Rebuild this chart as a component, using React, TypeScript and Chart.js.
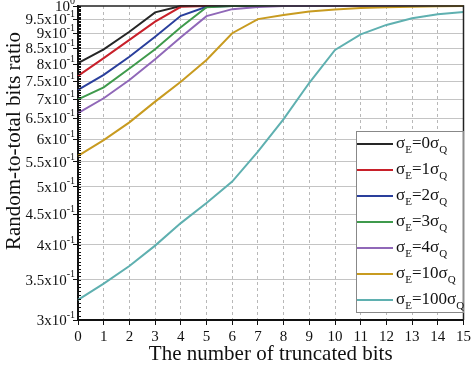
import React, { useEffect, useRef } from "react";
import { Chart, registerables } from "chart.js";

Chart.register(...registerables);

const xValues = [0, 1, 2, 3, 4, 5, 6, 7, 8, 9, 10, 11, 12, 13, 14, 15];

const sigmaMultipliers = ["0", "1", "2", "3", "4", "10", "100"];

const s0 = [0.803, 0.847, 0.906, 0.976, 1, 1, 1, 1, 1, 1, 1, 1, 1, 1, 1, 1];
const s1 = [0.765, 0.819, 0.878, 0.942, 0.997, 1, 1, 1, 1, 1, 1, 1, 1, 1, 1, 1];
const s2 = [0.725, 0.768, 0.823, 0.889, 0.963, 0.997, 1, 1, 1, 1, 1, 1, 1, 1, 1, 1];
const s3 = [0.699, 0.732, 0.787, 0.847, 0.922, 0.995, 1, 1, 1, 1, 1, 1, 1, 1, 1, 1];
const s4 = [0.663, 0.702, 0.753, 0.815, 0.887, 0.962, 0.988, 0.996, 1, 1, 1, 1, 1, 1, 1, 1];
const s10 = [0.563, 0.598, 0.64, 0.693, 0.748, 0.813, 0.901, 0.951, 0.966, 0.979, 0.987, 0.992, 0.995, 0.997, 0.999, 1];
const s100 = [0.324, 0.345, 0.369, 0.399, 0.435, 0.47, 0.51, 0.572, 0.648, 0.745, 0.845, 0.897, 0.93, 0.954, 0.969, 0.977];

const seriesValues = [s0, s1, s2, s3, s4, s10, s100];
const seriesColors = ["#262626", "#c8202a", "#2a3f9c", "#3f9a4c", "#9068b8", "#c89b20", "#5fb0b0"];

const yMajorTicks = [0.3, 0.35, 0.4, 0.45, 0.5, 0.55, 0.6, 0.65, 0.7, 0.75, 0.8, 0.85, 0.9, 0.95, 1];
const yTickBases = ["3x10", "3.5x10", "4x10", "4.5x10", "5x10", "5.5x10", "6x10", "6.5x10", "7x10", "7.5x10", "8x10", "8.5x10", "9x10", "9.5x10", "10"];
const yTickExps = ["-1", "-1", "-1", "-1", "-1", "-1", "-1", "-1", "-1", "-1", "-1", "-1", "-1", "-1", "0"];

const yTitle = "Random-to-total bits ratio";
const xTitle = "The number of truncated bits";

const yMinorTicks: number[] = [];
for (let i = 60; i <= 200; i++) yMinorTicks.push(i / 200);

const SERIF = '"Liberation Serif", "Times New Roman", serif';

const overlayPlugin = {
  id: "overlay",
  afterDatasetsDraw(chart: any) {
    const { ctx, chartArea } = chart;
    const y = chart.scales.y;
    ctx.save();
    // frame top / right
    ctx.strokeStyle = "#222";
    ctx.lineWidth = 1.5;
    ctx.beginPath();
    ctx.moveTo(chartArea.left, chartArea.top);
    ctx.lineTo(chartArea.right, chartArea.top);
    ctx.lineTo(chartArea.right, chartArea.bottom);
    ctx.stroke();
    // minor ticks (inward)
    ctx.lineWidth = 1;
    ctx.strokeStyle = "#111";
    ctx.beginPath();
    for (const v of yMinorTicks) {
      const py = Math.round(y.getPixelForValue(v)) + 0.5;
      ctx.moveTo(chartArea.left, py);
      ctx.lineTo(chartArea.left + 3, py);
    }
    ctx.stroke();
    // y labels with superscript
    ctx.fillStyle = "#111";
    ctx.textBaseline = "middle";
    ctx.textAlign = "left";
    const right = chartArea.left - 3;
    yMajorTicks.forEach((v, i) => {
      const py = y.getPixelForValue(v);
      ctx.font = `10px ${SERIF}`;
      const supW = ctx.measureText(yTickExps[i]).width;
      ctx.font = `15px ${SERIF}`;
      const baseW = ctx.measureText(yTickBases[i]).width;
      ctx.fillText(yTickBases[i], right - supW - baseW, py + 1);
      ctx.font = `10px ${SERIF}`;
      ctx.fillText(yTickExps[i], right - supW, py - 5);
    });
    // y title
    ctx.save();
    ctx.translate(14, 141);
    ctx.rotate(-Math.PI / 2);
    ctx.textAlign = "center";
    ctx.textBaseline = "middle";
    ctx.font = `21px ${SERIF}`;
    ctx.fillText(yTitle, 0, 0);
    ctx.restore();
    // legend
    const boxRight = chartArea.right;
    const boxLeft = 356;
    const boxTop = 131;
    const rowH = 26;
    const boxBottom = boxTop + rowH * seriesValues.length;
    ctx.fillStyle = "#fff";
    ctx.fillRect(boxLeft, boxTop, boxRight - boxLeft, boxBottom - boxTop);
    ctx.strokeStyle = "#888";
    ctx.lineWidth = 1;
    ctx.strokeRect(boxLeft + 0.5, boxTop + 0.5, boxRight - boxLeft - 1, boxBottom - boxTop - 1);
    chart.data.datasets.forEach((ds: any, i: number) => {
      const cy = boxTop + 13 + rowH * i;
      ctx.strokeStyle = ds.borderColor;
      ctx.lineWidth = 2;
      ctx.beginPath();
      ctx.moveTo(boxLeft + 1, cy);
      ctx.lineTo(boxLeft + 37, cy);
      ctx.stroke();
      const parts = String(ds.label).split(/_(\w)/);
      let x = boxLeft + 40;
      ctx.fillStyle = "#111";
      parts.forEach((p: string, k: number) => {
        const sub = k % 2 === 1;
        ctx.font = sub ? `11px ${SERIF}` : `17px ${SERIF}`;
        ctx.fillText(p, x, sub ? cy + 6 : cy);
        x += ctx.measureText(p).width;
      });
    });
    ctx.restore();
  },
};

export default function App() {
  const ref = useRef<HTMLCanvasElement>(null);
  useEffect(() => {
    if (!ref.current) return;
    const chart = new Chart(ref.current, {
      type: "line",
      data: {
        datasets: seriesValues.map((vals, i) => ({
          label: `σ_E=${sigmaMultipliers[i]}σ_Q`,
          data: xValues.map((x, j) => ({ x, y: vals[j] })),
          borderColor: seriesColors[i],
          backgroundColor: seriesColors[i],
          borderWidth: 2,
          pointRadius: 0,
          tension: 0,
          order: seriesValues.length - i,
          clip: 4,
        })),
      },
      options: {
        animation: false,
        responsive: true,
        maintainAspectRatio: false,
        layout: { padding: { left: 0, top: 6, right: 7, bottom: 0 } },
        plugins: { legend: { display: false }, tooltip: { enabled: false } },
        scales: {
          x: {
            type: "linear",
            min: 0,
            max: 15,
            afterFit: (s: any) => {
              s.height = 46;
            },
            ticks: { stepSize: 1, font: { family: SERIF, size: 15 }, color: "#111", padding: 3 },
            grid: { color: "#b8b8b8", lineWidth: 1, tickLength: 5, tickColor: "#111", tickWidth: 1 },
            border: { color: "#111", width: 2, dash: [3, 3] },
            title: {
              display: true,
              text: xTitle,
              font: { family: SERIF, size: 21 },
              color: "#111",
              padding: { top: 0, bottom: -1 },
            },
          },
          y: {
            type: "logarithmic",
            min: 0.3,
            max: 1,
            afterFit: (s: any) => {
              s.width = 78;
            },
            afterBuildTicks: (s: any) => {
              s.ticks = yMajorTicks.map((v) => ({ value: v }));
            },
            ticks: { display: false },
            grid: {
              color: (c: any) => (c.tick && (c.tick.value === 1 || c.tick.value === 0.3) ? "rgba(0,0,0,0)" : "#c4c4c4"),
              lineWidth: 1,
              tickLength: 5,
              tickColor: "#111",
            },
            border: { color: "#111", width: 2 },
            title: { display: false },
          },
        },
      },
      plugins: [overlayPlugin],
    });
    return () => chart.destroy();
  }, []);
  return (
    <div style={{ position: "fixed", left: 0, top: 0, width: 474, height: 366, background: "#fff" }}>
      <canvas ref={ref} />
    </div>
  );
}
